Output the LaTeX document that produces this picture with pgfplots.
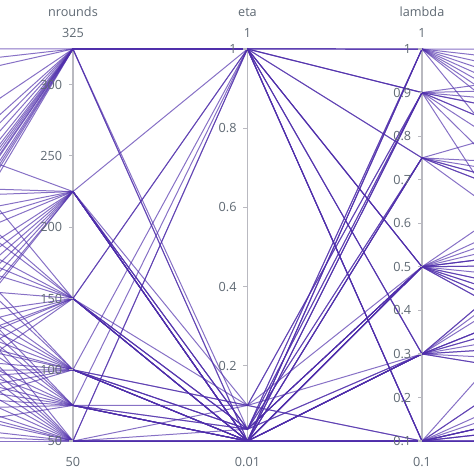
\documentclass[border=0pt]{standalone}
\usepackage{pgfplots}
\pgfplotsset{compat=1.18}
\usepackage{fontspec}
\setmainfont{Open Sans}
\definecolor{pline}{RGB}{78,45,170}
\definecolor{axgray}{RGB}{185,185,192}
\definecolor{txtgray}{RGB}{95,105,115}
\tikzset{
  pstyle/.style={color=pline, line width=0.6pt, opacity=0.68},
  tl/.style={text=txtgray, font=\fontsize{7.6}{9}\selectfont},
}
% one row of the parallel-coordinates data: left(normalised), nrounds, eta, lambda, right(normalised)
\newcommand\pc[5]{%
 \pgfmathsetmacro\ya{#1}%
 \pgfmathsetmacro\yb{(#2-50)/275}%
 \pgfmathsetmacro\yc{(#3-0.01)/0.99}%
 \pgfmathsetmacro\yd{(#4-0.1)/0.9}%
 \pgfmathsetmacro\ye{#5}%
 \edef\tmp{\noexpand\addplot[pstyle] coordinates {(0,\ya)(1,\yb)(2,\yc)(3,\yd)(4,\ye)};}\tmp}
\begin{document}
\begin{tikzpicture}
\begin{axis}[
  width=10cm, height=10cm, scale only axis, hide axis,
  xmin=0.582, xmax=3.298, ymin=-0.084, ymax=1.125,
]
\addplot[axgray, line width=0.9pt] coordinates {(1,0) (1,1)};
\addplot[axgray, line width=0.9pt] coordinates {(2,0) (2,1)};
\addplot[axgray, line width=0.9pt] coordinates {(3,0) (3,1)};
% nrounds = 325
\pc{1}{325}{1}{1}{1}
\pc{0.95}{325}{1}{0.9}{0.85}
\pc{0.9}{325}{1}{0.5}{0.6}
\pc{0.6}{325}{1}{0.3}{0.4}
\pc{0.55}{325}{1}{0.1}{0.3}
\pc{0.5}{325}{1}{1}{0.7}
\pc{0.45}{325}{1}{0.75}{0.55}
\pc{0.4}{325}{0.01}{0.5}{0.75}
\pc{0.38}{325}{0.04}{0.9}{0.9}
\pc{0.35}{325}{1}{0.9}{0.2}
\pc{0.3}{325}{1}{1}{0.45}
\pc{0.7}{325}{0.01}{0.1}{0}
\pc{0.25}{325}{1}{0.3}{0.15}
\pc{0.32}{325}{1}{0.1}{0.5}
\pc{0.42}{325}{1}{1}{0.65}
\pc{0.28}{325}{1}{0.5}{0.3}
\pc{0.36}{325}{1}{0.1}{0.05}
% nrounds = 225
\pc{0.2}{225}{1}{0.5}{0.35}
\pc{0.8}{225}{0.01}{0.3}{0.55}
\pc{0.65}{225}{0.01}{1}{0.8}
\pc{0.5}{225}{0.04}{0.75}{0.65}
\pc{0.15}{225}{0.01}{0.5}{0.5}
\pc{0.35}{225}{0.1}{0.9}{0.95}
\pc{0.45}{225}{0.01}{0.1}{0.1}
\pc{0.1}{225}{0.01}{0.3}{0.25}
\pc{0.55}{225}{0.04}{0.5}{0.2}
\pc{0.25}{225}{0.01}{0.75}{0.85}
\pc{0.62}{225}{0.01}{0.5}{0.45}
\pc{0.3}{225}{0.01}{0.1}{0}
\pc{0.08}{225}{0.04}{0.9}{0.7}
% nrounds = 150
\pc{0.9}{150}{1}{0.3}{0.35}
\pc{0.05}{150}{0.01}{0.1}{0}
\pc{0.3}{150}{0.01}{0.5}{0.5}
\pc{0.6}{150}{0.1}{0.3}{0.6}
\pc{0.2}{150}{0.04}{1}{0.75}
\pc{0.4}{150}{0.01}{0.9}{0.7}
\pc{0.12}{150}{0.01}{0.75}{0.4}
\pc{0.7}{150}{1}{0.1}{0.2}
\pc{0.5}{150}{0.01}{0.3}{0.15}
\pc{0.18}{150}{0.04}{0.5}{0.25}
\pc{0.75}{150}{0.01}{0.1}{0.1}
\pc{0.25}{150}{0.01}{0.3}{0.4}
\pc{0.55}{150}{0.04}{0.75}{0.6}
% nrounds = 100
\pc{0.35}{100}{1}{0.9}{0.6}
\pc{0.15}{100}{0.01}{0.1}{0}
\pc{0.5}{100}{0.1}{0.5}{0.45}
\pc{0.22}{100}{0.01}{0.3}{0.3}
\pc{0.05}{100}{0.04}{1}{0.9}
\pc{0.28}{100}{0.01}{0.75}{0.55}
\pc{0.6}{100}{0.01}{0.1}{0.1}
\pc{0.1}{100}{0.1}{0.9}{0.8}
\pc{0.4}{100}{0.01}{0.5}{0.65}
\pc{0.18}{100}{0.04}{0.3}{0.2}
\pc{0.65}{100}{0.01}{0.3}{0.5}
\pc{0.45}{100}{0.01}{0.1}{0.05}
\pc{0.3}{100}{0.04}{0.5}{0.3}
% nrounds = 75
\pc{0.3}{75}{1}{0.5}{0.4}
\pc{0.08}{75}{0.01}{0.1}{0}
\pc{0.2}{75}{0.01}{0.3}{0.35}
\pc{0.45}{75}{0.1}{0.1}{0.15}
\pc{0.12}{75}{0.04}{0.5}{0.55}
\pc{0.25}{75}{0.01}{1}{0.95}
\pc{0.02}{75}{0.01}{0.75}{0.7}
\pc{0.38}{75}{0.01}{0.9}{0.45}
\pc{0.55}{75}{0.01}{0.1}{0.1}
\pc{0.16}{75}{0.01}{0.5}{0.25}
\pc{0.5}{75}{0.04}{0.3}{0.6}
% nrounds = 50
\pc{0}{50}{0.01}{0.1}{0}
\pc{0.25}{50}{1}{0.75}{0.6}
\pc{0.15}{50}{1}{0.1}{0.3}
\pc{0.05}{50}{0.01}{0.3}{0.25}
\pc{0.35}{50}{0.04}{0.5}{0.5}
\pc{0.1}{50}{0.1}{0.1}{0.05}
\pc{0.2}{50}{0.01}{0.9}{0.8}
\pc{0.45}{50}{0.01}{0.5}{0.35}
\pc{0.02}{50}{0.01}{0.1}{0.1}
\pc{0.3}{50}{0.01}{1}{0.85}
\pc{0.4}{50}{0.01}{0.3}{0.4}
\pc{0.12}{50}{0.01}{0.5}{0.2}
\pc{0.55}{50}{0.01}{0.1}{0}
\pgfplotsextra{
  % nrounds axis
  \foreach \v/\y in {50/0,100/0.1818,150/0.3636,200/0.5455,250/0.7273,300/0.9091} {
    \draw[axgray, line width=0.7pt] (axis cs:1,\y) -- ([xshift=-2.6pt]axis cs:1,\y);
    \node[tl, anchor=east] at ([xshift=-3pt]axis cs:1,\y) {\v};
  }
  % eta axis
  \foreach \v/\y in {0.2/0.1919,0.4/0.3939,0.6/0.5960,0.8/0.7980,1/1} {
    \draw[axgray, line width=0.7pt] (axis cs:2,\y) -- ([xshift=-2.6pt]axis cs:2,\y);
    \node[tl, anchor=east] at ([xshift=-3pt]axis cs:2,\y) {\v};
  }
  % lambda axis
  \foreach \v/\y in {0.1/0,0.2/0.1111,0.3/0.2222,0.4/0.3333,0.5/0.4444,0.6/0.5556,0.7/0.6667,0.8/0.7778,0.9/0.8889,1/1} {
    \draw[axgray, line width=0.7pt] (axis cs:3,\y) -- ([xshift=-2.6pt]axis cs:3,\y);
    \node[tl, anchor=east] at ([xshift=-3pt]axis cs:3,\y) {\v};
  }
  \node[tl] at (axis cs:1,1.094) {nrounds};
  \node[tl] at (axis cs:2,1.094) {eta};
  \node[tl] at (axis cs:3,1.094) {lambda};
  \node[tl] at (axis cs:1,1.041) {325};
  \node[tl] at (axis cs:2,1.041) {1};
  \node[tl] at (axis cs:3,1.041) {1};
  \node[tl] at (axis cs:1,-0.054) {50};
  \node[tl] at (axis cs:2,-0.054) {0.01};
  \node[tl] at (axis cs:3,-0.054) {0.1};
}
\end{axis}
\pgfresetboundingbox
\useasboundingbox (current axis.south west) rectangle (current axis.north east);
\end{tikzpicture}
\end{document}
